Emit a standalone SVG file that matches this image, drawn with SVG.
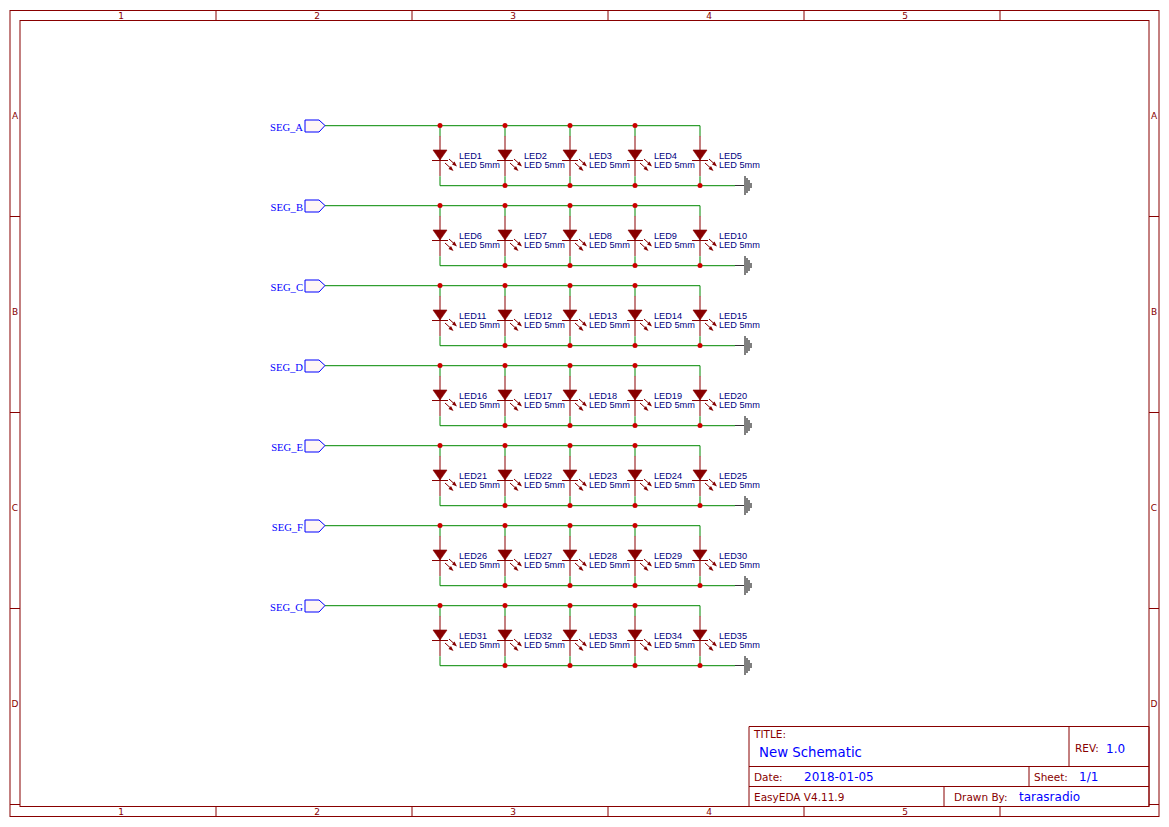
<svg xmlns="http://www.w3.org/2000/svg" width="1169" height="827" viewBox="0 0 1169 827">
<style>
.f{fill:none;stroke:#880000;stroke-width:1}
.w{fill:none;stroke:#008800;stroke-width:1}
.j{fill:#cc0000}
.t{font-family:"DejaVu Sans",sans-serif;fill:#880000;font-size:10.500px}
.v{font-family:"DejaVu Sans",sans-serif;fill:#0000ff;font-size:12px}
.m{text-anchor:middle;font-size:9px}
.d{font-family:"Liberation Sans",Arial,sans-serif;fill:#000080;font-size:9.200px}
.n{font-family:"Liberation Serif","Times New Roman",serif;fill:#0000ff;font-size:10.600px;text-anchor:end}
.p{fill:#fff5f5;stroke:#0000ff;stroke-width:1}
</style>
<defs>
<g id="led">
<path d="M0 10V50" fill="none" stroke="#880000" stroke-width="1"/>
<path d="M-7 24H7L0 34Z" fill="#880000" stroke="#880000" stroke-width=".6"/>
<path d="M-8 34.500H8" class="f"/>
<path d="M9 33L14 37.500M5 37L10 41.500" class="f"/>
<path d="M17 40.500L12 38.500L14.500 35.500ZM13.500 45L8.500 43L11 40Z" fill="#880000"/>
</g>
<g id="gnd">
<path d="M35 0H44" fill="none" stroke="#333333" stroke-width="1"/>
<path d="M44-9.500H46V-7.500H48V-5.500H50V-2.500H52V2.500H50V5.500H48V7.500H46V9.500H44Z" fill="#808080"/>
</g>
</defs>
<g id="frame">
<rect x="10" y="10.500" width="1149" height="806" class="f"/>
<rect x="20" y="20.500" width="1129" height="786" class="f"/>
<path d="M216 10.500V20.500M412 10.500V20.500M608 10.500V20.500M804 10.500V20.500M1000 10.500V20.500M216 806.500V816.500M412 806.500V816.500M608 806.500V816.500M804 806.500V816.500M1000 806.500V816.500M10 216.500H20M10 412.500H20M10 608.500H20M10 804.500H20M1149 216.500H1159M1149 412.500H1159M1149 608.500H1159M1149 804.500H1159" class="f"/>
<text class="t m" x="121" y="19">1</text><text class="t m" x="317" y="19">2</text><text class="t m" x="513" y="19">3</text><text class="t m" x="709" y="19">4</text><text class="t m" x="905" y="19">5</text>
<text class="t m" x="121" y="815">1</text><text class="t m" x="317" y="815">2</text><text class="t m" x="513" y="815">3</text><text class="t m" x="709" y="815">4</text><text class="t m" x="905" y="815">5</text>
<text class="t m" x="15" y="119">A</text><text class="t m" x="15" y="315">B</text><text class="t m" x="15" y="511">C</text><text class="t m" x="15" y="707">D</text>
<text class="t m" x="1154" y="119">A</text><text class="t m" x="1154" y="315">B</text><text class="t m" x="1154" y="511">C</text><text class="t m" x="1154" y="707">D</text>
</g>
<g id="title-block">
<path d="M749 806.500V726.500H1149V806.500H749M749 766.500H1149M749 786.500H1149M1069 726.500V766.500M1029 766.500V786.500M944 786.500V806.500" class="f"/>
<text class="t" x="754" y="738">TITLE:</text>
<text class="v" x="759" y="757" style="font-size:13.300px">New Schematic</text>
<text class="t" x="1075" y="752">REV:</text><text class="v" x="1106" y="753">1.0</text>
<text class="t" x="754" y="781">Date:</text><text class="v" x="804" y="781">2018-01-05</text>
<text class="t" x="1034" y="781">Sheet:</text><text class="v" x="1079" y="781">1/1</text>
<text class="t" x="754" y="801">EasyEDA V4.11.9</text>
<text class="t" x="954" y="801">Drawn By:</text><text class="v" x="1019" y="801">tarasradio</text>
</g>
<g id="connectors" transform="translate(0,0.2)">
<path class="w" d="M325 125.500H700M440 125.500V136M505 125.500V136M570 125.500V136M635 125.500V136M700 125.500V136M440 176V185.500H735M505 176V185.500M570 176V185.500M635 176V185.500M700 176V185.500"/>
<path class="w" d="M325 205.500H700M440 205.500V216M505 205.500V216M570 205.500V216M635 205.500V216M700 205.500V216M440 256V265.500H735M505 256V265.500M570 256V265.500M635 256V265.500M700 256V265.500"/>
<path class="w" d="M325 285.500H700M440 285.500V296M505 285.500V296M570 285.500V296M635 285.500V296M700 285.500V296M440 336V345.500H735M505 336V345.500M570 336V345.500M635 336V345.500M700 336V345.500"/>
<path class="w" d="M325 365.500H700M440 365.500V376M505 365.500V376M570 365.500V376M635 365.500V376M700 365.500V376M440 416V425.500H735M505 416V425.500M570 416V425.500M635 416V425.500M700 416V425.500"/>
<path class="w" d="M325 445.500H700M440 445.500V456M505 445.500V456M570 445.500V456M635 445.500V456M700 445.500V456M440 496V505.500H735M505 496V505.500M570 496V505.500M635 496V505.500M700 496V505.500"/>
<path class="w" d="M325 525.500H700M440 525.500V536M505 525.500V536M570 525.500V536M635 525.500V536M700 525.500V536M440 576V585.500H735M505 576V585.500M570 576V585.500M635 576V585.500M700 576V585.500"/>
<path class="w" d="M325 605.500H700M440 605.500V616M505 605.500V616M570 605.500V616M635 605.500V616M700 605.500V616M440 656V665.500H735M505 656V665.500M570 656V665.500M635 656V665.500M700 656V665.500"/>
</g>
<g id="SEG_A"><text class="n" x="303" y="131">SEG_A</text><path class="p" d="M305 120H319L325 125.500L319 132H305Z"/></g>
<g id="SEG_B"><text class="n" x="303" y="211">SEG_B</text><path class="p" d="M305 200H319L325 205.500L319 212H305Z"/></g>
<g id="SEG_C"><text class="n" x="303" y="291">SEG_C</text><path class="p" d="M305 280H319L325 285.500L319 292H305Z"/></g>
<g id="SEG_D"><text class="n" x="303" y="371">SEG_D</text><path class="p" d="M305 360H319L325 365.500L319 372H305Z"/></g>
<g id="SEG_E"><text class="n" x="303" y="451">SEG_E</text><path class="p" d="M305 440H319L325 445.500L319 452H305Z"/></g>
<g id="SEG_F"><text class="n" x="303" y="531">SEG_F</text><path class="p" d="M305 520H319L325 525.500L319 532H305Z"/></g>
<g id="SEG_G"><text class="n" x="303" y="611">SEG_G</text><path class="p" d="M305 600H319L325 605.500L319 612H305Z"/></g>
<g id="GND1" transform="translate(700,185.500)"><use href="#gnd"/></g>
<g id="GND2" transform="translate(700,265.500)"><use href="#gnd"/></g>
<g id="GND3" transform="translate(700,345.500)"><use href="#gnd"/></g>
<g id="GND4" transform="translate(700,425.500)"><use href="#gnd"/></g>
<g id="GND5" transform="translate(700,505.500)"><use href="#gnd"/></g>
<g id="GND6" transform="translate(700,585.500)"><use href="#gnd"/></g>
<g id="GND7" transform="translate(700,665.500)"><use href="#gnd"/></g>
<g id="LED1" transform="translate(440,126)"><use href="#led"/><text class="d" x="19" y="33">LED1</text><text class="d" x="19" y="42">LED 5mm</text></g>
<g id="LED2" transform="translate(505,126)"><use href="#led"/><text class="d" x="19" y="33">LED2</text><text class="d" x="19" y="42">LED 5mm</text></g>
<g id="LED3" transform="translate(570,126)"><use href="#led"/><text class="d" x="19" y="33">LED3</text><text class="d" x="19" y="42">LED 5mm</text></g>
<g id="LED4" transform="translate(635,126)"><use href="#led"/><text class="d" x="19" y="33">LED4</text><text class="d" x="19" y="42">LED 5mm</text></g>
<g id="LED5" transform="translate(700,126)"><use href="#led"/><text class="d" x="19" y="33">LED5</text><text class="d" x="19" y="42">LED 5mm</text></g>
<g id="LED6" transform="translate(440,206)"><use href="#led"/><text class="d" x="19" y="33">LED6</text><text class="d" x="19" y="42">LED 5mm</text></g>
<g id="LED7" transform="translate(505,206)"><use href="#led"/><text class="d" x="19" y="33">LED7</text><text class="d" x="19" y="42">LED 5mm</text></g>
<g id="LED8" transform="translate(570,206)"><use href="#led"/><text class="d" x="19" y="33">LED8</text><text class="d" x="19" y="42">LED 5mm</text></g>
<g id="LED9" transform="translate(635,206)"><use href="#led"/><text class="d" x="19" y="33">LED9</text><text class="d" x="19" y="42">LED 5mm</text></g>
<g id="LED10" transform="translate(700,206)"><use href="#led"/><text class="d" x="19" y="33">LED10</text><text class="d" x="19" y="42">LED 5mm</text></g>
<g id="LED11" transform="translate(440,286)"><use href="#led"/><text class="d" x="19" y="33">LED11</text><text class="d" x="19" y="42">LED 5mm</text></g>
<g id="LED12" transform="translate(505,286)"><use href="#led"/><text class="d" x="19" y="33">LED12</text><text class="d" x="19" y="42">LED 5mm</text></g>
<g id="LED13" transform="translate(570,286)"><use href="#led"/><text class="d" x="19" y="33">LED13</text><text class="d" x="19" y="42">LED 5mm</text></g>
<g id="LED14" transform="translate(635,286)"><use href="#led"/><text class="d" x="19" y="33">LED14</text><text class="d" x="19" y="42">LED 5mm</text></g>
<g id="LED15" transform="translate(700,286)"><use href="#led"/><text class="d" x="19" y="33">LED15</text><text class="d" x="19" y="42">LED 5mm</text></g>
<g id="LED16" transform="translate(440,366)"><use href="#led"/><text class="d" x="19" y="33">LED16</text><text class="d" x="19" y="42">LED 5mm</text></g>
<g id="LED17" transform="translate(505,366)"><use href="#led"/><text class="d" x="19" y="33">LED17</text><text class="d" x="19" y="42">LED 5mm</text></g>
<g id="LED18" transform="translate(570,366)"><use href="#led"/><text class="d" x="19" y="33">LED18</text><text class="d" x="19" y="42">LED 5mm</text></g>
<g id="LED19" transform="translate(635,366)"><use href="#led"/><text class="d" x="19" y="33">LED19</text><text class="d" x="19" y="42">LED 5mm</text></g>
<g id="LED20" transform="translate(700,366)"><use href="#led"/><text class="d" x="19" y="33">LED20</text><text class="d" x="19" y="42">LED 5mm</text></g>
<g id="LED21" transform="translate(440,446)"><use href="#led"/><text class="d" x="19" y="33">LED21</text><text class="d" x="19" y="42">LED 5mm</text></g>
<g id="LED22" transform="translate(505,446)"><use href="#led"/><text class="d" x="19" y="33">LED22</text><text class="d" x="19" y="42">LED 5mm</text></g>
<g id="LED23" transform="translate(570,446)"><use href="#led"/><text class="d" x="19" y="33">LED23</text><text class="d" x="19" y="42">LED 5mm</text></g>
<g id="LED24" transform="translate(635,446)"><use href="#led"/><text class="d" x="19" y="33">LED24</text><text class="d" x="19" y="42">LED 5mm</text></g>
<g id="LED25" transform="translate(700,446)"><use href="#led"/><text class="d" x="19" y="33">LED25</text><text class="d" x="19" y="42">LED 5mm</text></g>
<g id="LED26" transform="translate(440,526)"><use href="#led"/><text class="d" x="19" y="33">LED26</text><text class="d" x="19" y="42">LED 5mm</text></g>
<g id="LED27" transform="translate(505,526)"><use href="#led"/><text class="d" x="19" y="33">LED27</text><text class="d" x="19" y="42">LED 5mm</text></g>
<g id="LED28" transform="translate(570,526)"><use href="#led"/><text class="d" x="19" y="33">LED28</text><text class="d" x="19" y="42">LED 5mm</text></g>
<g id="LED29" transform="translate(635,526)"><use href="#led"/><text class="d" x="19" y="33">LED29</text><text class="d" x="19" y="42">LED 5mm</text></g>
<g id="LED30" transform="translate(700,526)"><use href="#led"/><text class="d" x="19" y="33">LED30</text><text class="d" x="19" y="42">LED 5mm</text></g>
<g id="LED31" transform="translate(440,606)"><use href="#led"/><text class="d" x="19" y="33">LED31</text><text class="d" x="19" y="42">LED 5mm</text></g>
<g id="LED32" transform="translate(505,606)"><use href="#led"/><text class="d" x="19" y="33">LED32</text><text class="d" x="19" y="42">LED 5mm</text></g>
<g id="LED33" transform="translate(570,606)"><use href="#led"/><text class="d" x="19" y="33">LED33</text><text class="d" x="19" y="42">LED 5mm</text></g>
<g id="LED34" transform="translate(635,606)"><use href="#led"/><text class="d" x="19" y="33">LED34</text><text class="d" x="19" y="42">LED 5mm</text></g>
<g id="LED35" transform="translate(700,606)"><use href="#led"/><text class="d" x="19" y="33">LED35</text><text class="d" x="19" y="42">LED 5mm</text></g>
<g id="junctions" class="j">
<circle cx="440" cy="125.500" r="2.500"/><circle cx="505" cy="125.500" r="2.500"/><circle cx="570" cy="125.500" r="2.500"/><circle cx="635" cy="125.500" r="2.500"/><circle cx="505" cy="185.500" r="2.500"/><circle cx="570" cy="185.500" r="2.500"/><circle cx="635" cy="185.500" r="2.500"/><circle cx="700" cy="185.500" r="2.500"/>
<circle cx="440" cy="205.500" r="2.500"/><circle cx="505" cy="205.500" r="2.500"/><circle cx="570" cy="205.500" r="2.500"/><circle cx="635" cy="205.500" r="2.500"/><circle cx="505" cy="265.500" r="2.500"/><circle cx="570" cy="265.500" r="2.500"/><circle cx="635" cy="265.500" r="2.500"/><circle cx="700" cy="265.500" r="2.500"/>
<circle cx="440" cy="285.500" r="2.500"/><circle cx="505" cy="285.500" r="2.500"/><circle cx="570" cy="285.500" r="2.500"/><circle cx="635" cy="285.500" r="2.500"/><circle cx="505" cy="345.500" r="2.500"/><circle cx="570" cy="345.500" r="2.500"/><circle cx="635" cy="345.500" r="2.500"/><circle cx="700" cy="345.500" r="2.500"/>
<circle cx="440" cy="365.500" r="2.500"/><circle cx="505" cy="365.500" r="2.500"/><circle cx="570" cy="365.500" r="2.500"/><circle cx="635" cy="365.500" r="2.500"/><circle cx="505" cy="425.500" r="2.500"/><circle cx="570" cy="425.500" r="2.500"/><circle cx="635" cy="425.500" r="2.500"/><circle cx="700" cy="425.500" r="2.500"/>
<circle cx="440" cy="445.500" r="2.500"/><circle cx="505" cy="445.500" r="2.500"/><circle cx="570" cy="445.500" r="2.500"/><circle cx="635" cy="445.500" r="2.500"/><circle cx="505" cy="505.500" r="2.500"/><circle cx="570" cy="505.500" r="2.500"/><circle cx="635" cy="505.500" r="2.500"/><circle cx="700" cy="505.500" r="2.500"/>
<circle cx="440" cy="525.500" r="2.500"/><circle cx="505" cy="525.500" r="2.500"/><circle cx="570" cy="525.500" r="2.500"/><circle cx="635" cy="525.500" r="2.500"/><circle cx="505" cy="585.500" r="2.500"/><circle cx="570" cy="585.500" r="2.500"/><circle cx="635" cy="585.500" r="2.500"/><circle cx="700" cy="585.500" r="2.500"/>
<circle cx="440" cy="605.500" r="2.500"/><circle cx="505" cy="605.500" r="2.500"/><circle cx="570" cy="605.500" r="2.500"/><circle cx="635" cy="605.500" r="2.500"/><circle cx="505" cy="665.500" r="2.500"/><circle cx="570" cy="665.500" r="2.500"/><circle cx="635" cy="665.500" r="2.500"/><circle cx="700" cy="665.500" r="2.500"/>
</g>
</svg>
